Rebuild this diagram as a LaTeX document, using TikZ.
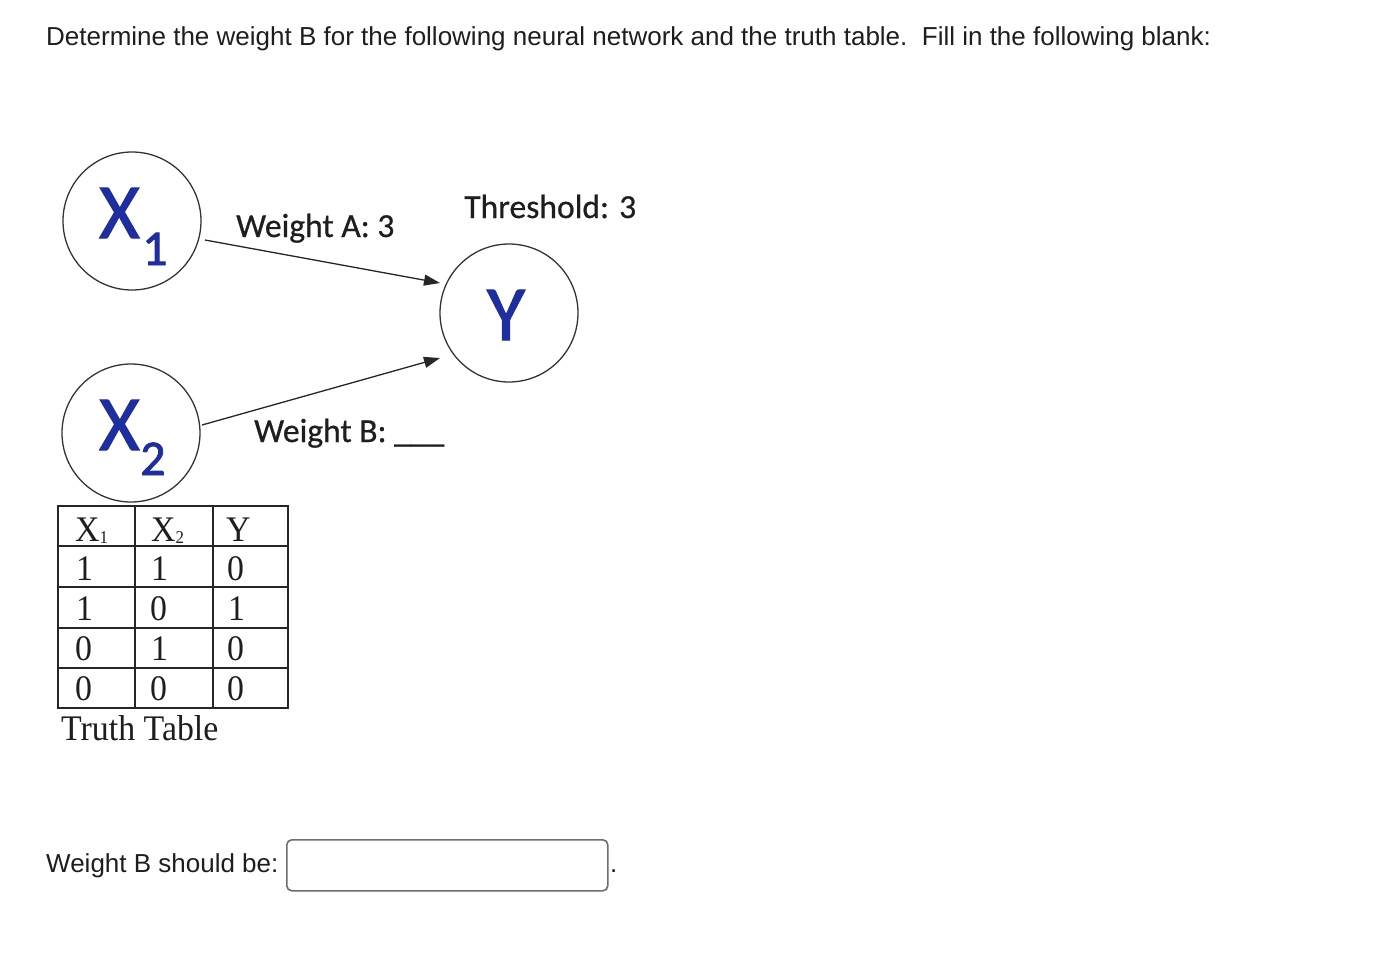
\documentclass[tikz,border=0pt]{standalone}
\usepackage{fontspec}
\usetikzlibrary{arrows.meta,calc}
\newfontfamily\arialf{Liberation Sans}
\newfontfamily\calibf{Carlito}[FakeBold=0.6]
\newfontfamily\calibbf{Carlito}[FakeBold=1.6]
\newfontfamily\timesf{Liberation Serif}
\definecolor{nblue}{HTML}{1F2E9E}
\definecolor{txt}{HTML}{1E1E1E}
\definecolor{boxgrey}{HTML}{6E6E6E}
\tikzset{
  neuron/.style={circle, draw=black!80, line width=1.3pt, minimum size=138pt, inner sep=0pt},
  big/.style={anchor=base west, inner sep=0pt, text=nblue, font=\calibbf\fontsize{78}{78}\selectfont},
  sub/.style={anchor=base west, inner sep=0pt, text=nblue, font=\calibbf\fontsize{50}{50}\selectfont},
  clbl/.style={anchor=base west, inner sep=0pt, text=txt, font=\calibf\fontsize{33.6}{36}\selectfont},
  alabel/.style={anchor=base west, inner sep=0pt, text=txt, font=\arialf\fontsize{26}{30}\selectfont},
  tcell/.style={anchor=base west, inner sep=0pt, text=txt, font=\timesf\fontsize{36}{40}\selectfont},
  conn/.style={line width=1.3pt, draw=black!85, -{Triangle[length=16pt,width=11pt]}},
  grid/.style={line width=1.6pt, draw=black!85}
}
\newcommand{\sq}[1]{\scalebox{0.94}[1]{#1}}
\begin{document}
\begin{tikzpicture}[x=1pt,y=-1pt]
\path[use as bounding box, fill=white] (0,0) rectangle (1398,956);

% title
\node[alabel] (title) at (46,45) {Determine the weight B for the following neural network and the truth table.\ \ Fill in the following blank:};

% neurons
\node[neuron] (x1) at (132,221) {};
\node[neuron] (x2) at (131,433) {};
\node[neuron] (y) at (509,313) {};

\node[big] (x1X) at (99,238) {X};
\node[sub] (x1s) at (142,265) {1};
\node[big] (x2X) at (99,450) {X};
\node[sub] (x2s) at (140,475) {2};
\node[big, anchor=base] (yY) at (506,340) {Y};

% labels
\node[clbl] (wa) at (236,237) {Weight A: 3};
\node[clbl] (th) at (464,218) {Threshold: 3};
\node[clbl] (wb) at (254,442) {Weight B: \_\_\_};

% connectors
\draw[conn] ($(x1.center)+(73,19)$) -- ($(y.center)+(-69,-30)$);
\draw[conn] ($(x2.center)+(71,-8)$) -- ($(y.center)+(-69,45)$);

% truth table
\draw[grid] (58,506) rectangle (288,708);
\foreach \yy in {546,587,628,668} \draw[grid] (58,\yy) -- (288,\yy);
\draw[grid] (135,506) -- (135,708);
\draw[grid] (213,506) -- (213,708);

\node[tcell] (h1) at (75,541) {\sq{X\raisebox{-2pt}{\fontsize{18}{18}\selectfont 1}}};
\node[tcell] (h2) at (151,541) {\sq{X\raisebox{-2pt}{\fontsize{18}{18}\selectfont 2}}};
\node[tcell] (h3) at (226,541) {\sq{Y}};

\node[tcell] (a1) at (76,580) {\sq{1}};
\node[tcell] (b1) at (151,580) {\sq{1}};
\node[tcell] (c1) at (227,580) {\sq{0}};
\node[tcell] (a2) at (76,620) {\sq{1}};
\node[tcell] (b2) at (150,620) {\sq{0}};
\node[tcell] (c2) at (228,620) {\sq{1}};
\node[tcell] (a3) at (75,660) {\sq{0}};
\node[tcell] (b3) at (151,660) {\sq{1}};
\node[tcell] (c3) at (227,660) {\sq{0}};
\node[tcell] (a4) at (75,700) {\sq{0}};
\node[tcell] (b4) at (150,700) {\sq{0}};
\node[tcell] (c4) at (227,700) {\sq{0}};

\node[tcell] (tt) at (61,740) {\sq{Truth Table}};

% answer line
\node[alabel] (ans) at (46,872) {Weight B should be:};
\node[draw=boxgrey, line width=1.6pt, rounded corners=5pt, minimum width=321pt, minimum height=51pt, inner sep=0pt, anchor=north west] (box) at (286,839) {};
\node[alabel] (dot) at (610,872) {.};
\end{tikzpicture}
\end{document}
